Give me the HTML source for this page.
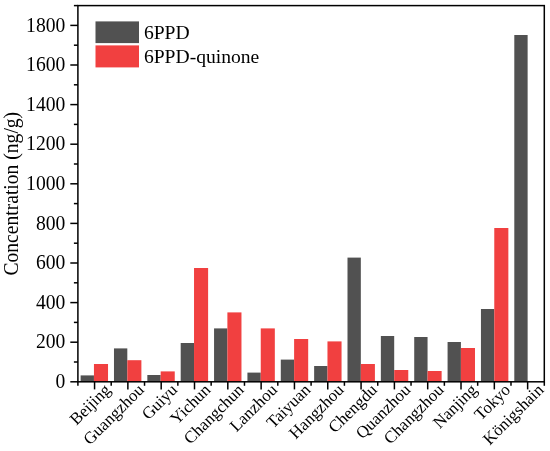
<!DOCTYPE html>
<html><head><meta charset="utf-8"><title>6PPD chart</title>
<style>html,body{margin:0;padding:0;background:#fff}svg{display:block}</style></head>
<body>
<svg width="550" height="451" viewBox="0 0 550 451">
<rect width="550" height="451" fill="#fff"/>
<rect x="80.62" y="375.40" width="13.33" height="6.40" fill="#515151"/>
<rect x="93.95" y="364.00" width="14.08" height="17.80" fill="#f14040"/>
<rect x="113.98" y="348.40" width="13.33" height="33.40" fill="#515151"/>
<rect x="127.31" y="360.20" width="14.08" height="21.60" fill="#f14040"/>
<rect x="147.34" y="375.00" width="13.33" height="6.80" fill="#515151"/>
<rect x="160.67" y="371.40" width="14.08" height="10.40" fill="#f14040"/>
<rect x="180.70" y="343.00" width="13.33" height="38.80" fill="#515151"/>
<rect x="194.03" y="268.00" width="14.08" height="113.80" fill="#f14040"/>
<rect x="214.06" y="328.40" width="13.33" height="53.40" fill="#515151"/>
<rect x="227.39" y="312.40" width="14.08" height="69.40" fill="#f14040"/>
<rect x="247.42" y="372.60" width="13.33" height="9.20" fill="#515151"/>
<rect x="260.75" y="328.40" width="14.08" height="53.40" fill="#f14040"/>
<rect x="280.78" y="359.60" width="13.33" height="22.20" fill="#515151"/>
<rect x="294.11" y="339.00" width="14.08" height="42.80" fill="#f14040"/>
<rect x="314.14" y="366.00" width="13.33" height="15.80" fill="#515151"/>
<rect x="327.47" y="341.40" width="14.08" height="40.40" fill="#f14040"/>
<rect x="347.50" y="257.60" width="13.33" height="124.20" fill="#515151"/>
<rect x="360.83" y="364.00" width="14.08" height="17.80" fill="#f14040"/>
<rect x="380.86" y="336.00" width="13.33" height="45.80" fill="#515151"/>
<rect x="394.19" y="370.00" width="14.08" height="11.80" fill="#f14040"/>
<rect x="414.22" y="337.00" width="13.33" height="44.80" fill="#515151"/>
<rect x="427.55" y="371.00" width="14.08" height="10.80" fill="#f14040"/>
<rect x="447.58" y="342.00" width="13.33" height="39.80" fill="#515151"/>
<rect x="460.91" y="348.00" width="14.08" height="33.80" fill="#f14040"/>
<rect x="480.94" y="309.00" width="13.33" height="72.80" fill="#515151"/>
<rect x="494.27" y="228.00" width="14.08" height="153.80" fill="#f14040"/>
<rect x="514.30" y="35.00" width="13.33" height="346.80" fill="#515151"/>
<g stroke="#000" stroke-width="1.5" fill="none" stroke-linecap="butt">
<rect x="77.9" y="5.6" width="466.40" height="376.20"/>
<line x1="70.30000000000001" y1="381.80" x2="77.9" y2="381.80"/>
<line x1="73.9" y1="362.00" x2="77.9" y2="362.00"/>
<line x1="70.30000000000001" y1="342.20" x2="77.9" y2="342.20"/>
<line x1="73.9" y1="322.40" x2="77.9" y2="322.40"/>
<line x1="70.30000000000001" y1="302.60" x2="77.9" y2="302.60"/>
<line x1="73.9" y1="282.80" x2="77.9" y2="282.80"/>
<line x1="70.30000000000001" y1="263.00" x2="77.9" y2="263.00"/>
<line x1="73.9" y1="243.20" x2="77.9" y2="243.20"/>
<line x1="70.30000000000001" y1="223.40" x2="77.9" y2="223.40"/>
<line x1="73.9" y1="203.60" x2="77.9" y2="203.60"/>
<line x1="70.30000000000001" y1="183.80" x2="77.9" y2="183.80"/>
<line x1="73.9" y1="164.00" x2="77.9" y2="164.00"/>
<line x1="70.30000000000001" y1="144.20" x2="77.9" y2="144.20"/>
<line x1="73.9" y1="124.40" x2="77.9" y2="124.40"/>
<line x1="70.30000000000001" y1="104.60" x2="77.9" y2="104.60"/>
<line x1="73.9" y1="84.80" x2="77.9" y2="84.80"/>
<line x1="70.30000000000001" y1="65.00" x2="77.9" y2="65.00"/>
<line x1="73.9" y1="45.20" x2="77.9" y2="45.20"/>
<line x1="70.30000000000001" y1="25.40" x2="77.9" y2="25.40"/>
<line x1="73.9" y1="5.60" x2="77.9" y2="5.60"/>
<line x1="94.56" y1="381.8" x2="94.56" y2="389.40000000000003"/>
<line x1="127.87" y1="381.8" x2="127.87" y2="389.40000000000003"/>
<line x1="161.19" y1="381.8" x2="161.19" y2="389.40000000000003"/>
<line x1="194.50" y1="381.8" x2="194.50" y2="389.40000000000003"/>
<line x1="227.81" y1="381.8" x2="227.81" y2="389.40000000000003"/>
<line x1="261.13" y1="381.8" x2="261.13" y2="389.40000000000003"/>
<line x1="294.44" y1="381.8" x2="294.44" y2="389.40000000000003"/>
<line x1="327.76" y1="381.8" x2="327.76" y2="389.40000000000003"/>
<line x1="361.07" y1="381.8" x2="361.07" y2="389.40000000000003"/>
<line x1="394.39" y1="381.8" x2="394.39" y2="389.40000000000003"/>
<line x1="427.70" y1="381.8" x2="427.70" y2="389.40000000000003"/>
<line x1="461.01" y1="381.8" x2="461.01" y2="389.40000000000003"/>
<line x1="494.33" y1="381.8" x2="494.33" y2="389.40000000000003"/>
<line x1="527.64" y1="381.8" x2="527.64" y2="389.40000000000003"/>
<line x1="77.90" y1="381.8" x2="77.90" y2="385.8"/>
<line x1="111.21" y1="381.8" x2="111.21" y2="385.8"/>
<line x1="144.53" y1="381.8" x2="144.53" y2="385.8"/>
<line x1="177.84" y1="381.8" x2="177.84" y2="385.8"/>
<line x1="211.16" y1="381.8" x2="211.16" y2="385.8"/>
<line x1="244.47" y1="381.8" x2="244.47" y2="385.8"/>
<line x1="277.79" y1="381.8" x2="277.79" y2="385.8"/>
<line x1="311.10" y1="381.8" x2="311.10" y2="385.8"/>
<line x1="344.41" y1="381.8" x2="344.41" y2="385.8"/>
<line x1="377.73" y1="381.8" x2="377.73" y2="385.8"/>
<line x1="411.04" y1="381.8" x2="411.04" y2="385.8"/>
<line x1="444.36" y1="381.8" x2="444.36" y2="385.8"/>
<line x1="477.67" y1="381.8" x2="477.67" y2="385.8"/>
<line x1="510.99" y1="381.8" x2="510.99" y2="385.8"/>
<line x1="544.30" y1="381.8" x2="544.30" y2="385.8"/>
</g>
<g font-family="'Liberation Serif', serif" font-size="19.6" fill="#000">
<text transform="translate(65.3,387.90) scale(1,1.04)" text-anchor="end">0</text>
<text transform="translate(65.3,348.30) scale(1,1.04)" text-anchor="end">200</text>
<text transform="translate(65.3,308.70) scale(1,1.04)" text-anchor="end">400</text>
<text transform="translate(65.3,269.10) scale(1,1.04)" text-anchor="end">600</text>
<text transform="translate(65.3,229.50) scale(1,1.04)" text-anchor="end">800</text>
<text transform="translate(65.3,189.90) scale(1,1.04)" text-anchor="end">1000</text>
<text transform="translate(65.3,150.30) scale(1,1.04)" text-anchor="end">1200</text>
<text transform="translate(65.3,110.70) scale(1,1.04)" text-anchor="end">1400</text>
<text transform="translate(65.3,71.10) scale(1,1.04)" text-anchor="end">1600</text>
<text transform="translate(65.3,31.50) scale(1,1.04)" text-anchor="end">1800</text>
<text transform="translate(111.56,390.80) rotate(-45)" text-anchor="end" font-size="16.85">Beijing</text>
<text transform="translate(144.87,390.80) rotate(-45)" text-anchor="end" font-size="16.85">Guangzhou</text>
<text transform="translate(178.19,390.80) rotate(-45)" text-anchor="end" font-size="16.85">Guiyu</text>
<text transform="translate(211.50,390.80) rotate(-45)" text-anchor="end" font-size="16.85">Yichun</text>
<text transform="translate(244.81,390.80) rotate(-45)" text-anchor="end" font-size="16.85">Changchun</text>
<text transform="translate(278.13,390.80) rotate(-45)" text-anchor="end" font-size="16.85">Lanzhou</text>
<text transform="translate(311.44,390.80) rotate(-45)" text-anchor="end" font-size="16.85">Taiyuan</text>
<text transform="translate(344.76,390.80) rotate(-45)" text-anchor="end" font-size="16.85">Hangzhou</text>
<text transform="translate(378.07,390.80) rotate(-45)" text-anchor="end" font-size="16.85">Chengdu</text>
<text transform="translate(411.39,390.80) rotate(-45)" text-anchor="end" font-size="16.85">Quanzhou</text>
<text transform="translate(444.70,390.80) rotate(-45)" text-anchor="end" font-size="16.85">Changzhou</text>
<text transform="translate(478.01,390.80) rotate(-45)" text-anchor="end" font-size="16.85">Nanjing</text>
<text transform="translate(511.33,390.80) rotate(-45)" text-anchor="end" font-size="16.85">Tokyo</text>
<text transform="translate(544.64,390.80) rotate(-45)" text-anchor="end" font-size="16.85">Königshain</text>
<text transform="translate(18.3,193.7) rotate(-90) scale(1,1.025)" text-anchor="middle">Concentration (ng/g)</text>
<text x="143.9" y="39.4">6PPD</text>
<text x="143.9" y="62.7">6PPD-quinone</text>
</g>
<rect x="95.5" y="21.4" width="43.5" height="21.7" fill="#515151"/>
<rect x="95.5" y="45.4" width="43.5" height="22" fill="#f14040"/>
</svg>
</body></html>
